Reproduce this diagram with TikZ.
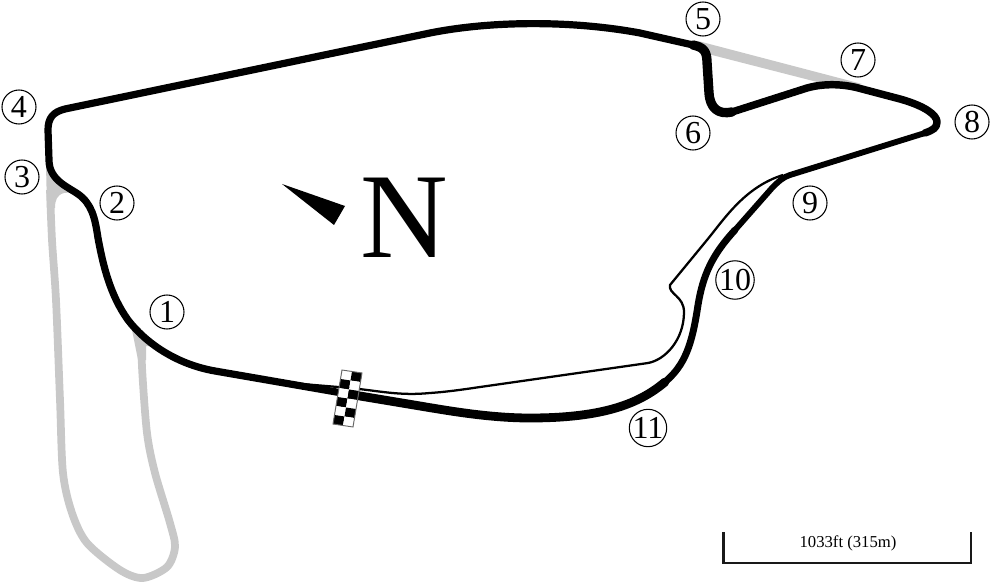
\documentclass[tikz,border=0pt]{standalone}
\usepackage{fontspec}
\setmainfont{Liberation Serif}
\definecolor{runoff}{HTML}{C8C8C8}
\tikzset{
  turn/.style={circle,draw=black,line width=0.8pt,minimum size=25.5pt,inner sep=0pt,font=\fontsize{24}{24}\selectfont},
  track/.style={draw=black,line width=4.4pt,line join=round,line cap=round},
  thintrack/.style={draw=black,line width=1.7pt,line join=round},
  oldtrack/.style={draw=runoff,line width=5.8pt},
  bar/.style={draw=black!90,line width=2.2pt,line cap=butt,line join=miter},
  flagcell/.style={fill=black},
}
\begin{document}
\begin{tikzpicture}[x=0.75pt,y=-0.75pt]
\useasboundingbox (0,0) rectangle (991,584);
% grey disused sections
\fill[runoff] (46,165) -- (75,192) -- (64,193) .. controls (57,195) and (55,200) .. (55,208) -- (47,208) -- cycle;
\fill[runoff] (131,325) -- (158,347) -- (146,346) -- (146,360) -- (138,360) -- cycle;
\fill[runoff] (698,41) -- (862,84) -- (825,84) -- (708,54) -- cycle;
\draw[oldtrack] plot[smooth,tension=0.5] coordinates {(50,190) (52,240) (56,300) (60,400) (63,473) (72,513) (87,543) (120,570) (143,578) (167,567) (175,547) (170,523) (155,473) (147,433) (142,367) (142,338)};
% main circuit, drawn in sections of different weight
\draw[track] (925,133) -- (790,175) .. controls (783,177) and (778,182) .. (772,188) -- (735,230);
\draw[track,line width=5.2pt] (735,230) .. controls (712,255) and (703,275) .. (698,305) .. controls (692,345) and (685,365) .. (665,382);
\draw[track,line width=6.6pt] (665,382) .. controls (640,403) and (605,418) .. (530,418) .. controls (490,418) and (450,411) .. (420,406) -- (345,393.5);
\draw[track,line width=5.4pt] (345,393.5) -- (215,371)
  .. controls (175,364) and (145,342) .. (128,320)
  .. controls (110,295) and (103,265) .. (98,238)
  .. controls (95,218) and (92,204) .. (78,194)
  .. controls (68,187) and (49,180) .. (49,160)
  -- (48,130)
  .. controls (48,118) and (53,112) .. (65,109)
  -- (430,33)
  .. controls (490,21) and (570,20) .. (640,33)
  -- (693,45);
\draw[track,line width=7pt] (693,45) .. controls (702,47) and (707,50) .. (707,62)
  -- (709,93) .. controls (710,108) and (718,115) .. (732,112);
\draw[track,line width=5.6pt] (732,112) -- (807,88)
  .. controls (825,83) and (845,84) .. (862,89) -- (900,99)
  .. controls (925,106) and (937,115) .. (937,122)
  .. controls (937,128) and (933,130) .. (925,133);
% inner chicane line
\draw[thintrack] (290,383) -- (350,388)
  .. controls (380,391) and (400,396) .. (430,393)
  .. controls (445,392) and (460,390) .. (480,387)
  -- (648,363)
  .. controls (665,360) and (684,340) .. (684,312)
  .. controls (684,296) and (668,294) .. (670,285)
  -- (707,240)
  .. controls (725,218) and (745,187) .. (783,175);
% start-finish flag
\foreach \r in {0,...,5}{\foreach \c in {0,1}{
  \pgfmathtruncatemacro{\odd}{mod(\r+\c,2)}
  \ifnum\odd=1
    \fill[flagcell] ({342+\c*10-\r*1.5},{370+\c*1.5+\r*9}) -- ({342+(\c+1)*10-\r*1.5},{370+(\c+1)*1.5+\r*9}) -- ({342+(\c+1)*10-(\r+1)*1.5},{370+(\c+1)*1.5+(\r+1)*9}) -- ({342+\c*10-(\r+1)*1.5},{370+\c*1.5+(\r+1)*9}) -- cycle;
  \else
    \fill[white] ({342+\c*10-\r*1.5},{370+\c*1.5+\r*9}) -- ({342+(\c+1)*10-\r*1.5},{370+(\c+1)*1.5+\r*9}) -- ({342+(\c+1)*10-(\r+1)*1.5},{370+(\c+1)*1.5+(\r+1)*9}) -- ({342+\c*10-(\r+1)*1.5},{370+\c*1.5+(\r+1)*9}) -- cycle;
  \fi
}}
\draw[black!60,line width=0.7pt] (342,370) -- (362,373) -- (353,427) -- (333,424) -- cycle;
% north marker
\fill[black] (282,184) -- (345,206) -- (334,225) -- cycle;
\node[inner sep=0pt,font=\fontsize{91}{91}\selectfont] (north) at (404,218) {N};
% turn numbers
\node[turn] (t1) at (167,312) {1};
\node[turn] (t2) at (117,203) {2};
\node[turn] (t3) at (22,177) {3};
\node[turn] (t4) at (19,107) {4};
\node[turn] (t5) at (703,19) {5};
\node[turn] (t6) at (693,133) {6};
\node[turn] (t7) at (858,60) {7};
\node[turn] (t8) at (972,122) {8};
\node[turn] (t9) at (810,203) {9};
\node[turn] (t10) at (735,280) {10};
\node[turn] (t11) at (648,428) {11};
% scale bar
\draw[bar] (723.5,532) -- (723.5,563) -- (971,563) -- (971,532);
\node[inner sep=0pt,font=\fontsize{12.5}{12.5}\selectfont] (scale) at (848,543) {1033ft (315m)};
\end{tikzpicture}
\end{document}
